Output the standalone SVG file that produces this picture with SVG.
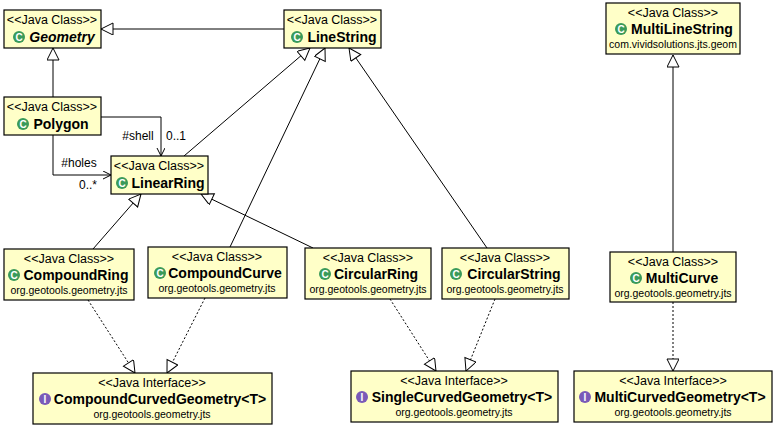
<svg xmlns="http://www.w3.org/2000/svg" width="775" height="428" viewBox="0 0 775 428">
<defs>
<marker id="tri" markerWidth="14" markerHeight="14" refX="13" refY="6" orient="auto" markerUnits="userSpaceOnUse"><path d="M1,0 L13,6 L1,12 Z" fill="#fff" stroke="#000"/></marker>
<marker id="open" markerWidth="10" markerHeight="10" refX="8" refY="4" orient="auto" markerUnits="userSpaceOnUse"><path d="M0,0 L8,4 L0,8" fill="none" stroke="#000"/></marker>
</defs>
<style>
.box{fill:#ffffc8;stroke:#000;stroke-width:1.2}
text{font-family:"Liberation Sans",Arial,sans-serif;text-anchor:middle}
.st{font-size:12.5px}
.nm{font-size:14px;font-weight:bold}
.pk{font-size:10.5px}
.lb{font-size:12px}
.ci{fill:#3a9a5a}
.ii{fill:#7a5ab8}
.ic{font-size:10px;font-weight:bold;fill:#fff}
.ln{fill:none;stroke:#000;stroke-width:1}
.ds{stroke-dasharray:2,2}
</style>
<g id="connectors">
<path class="ln" d="M284,29 H101" marker-end="url(#tri)"/>
<path class="ln" d="M53,97 V48" marker-end="url(#tri)"/>
<path class="ln" d="M101,117 H161 V156" marker-end="url(#open)"/>
<path class="ln" d="M53,135 V175 H111" marker-end="url(#open)"/>
<path class="ln" d="M184,156 L310,48" marker-end="url(#tri)"/>
<path class="ln" d="M230,247 L325,48" marker-end="url(#tri)"/>
<path class="ln" d="M487,248 L349,48" marker-end="url(#tri)"/>
<path class="ln" d="M93,249 L141,194" marker-end="url(#tri)"/>
<path class="ln" d="M313,248 L201,194" marker-end="url(#tri)"/>
<path class="ln" d="M673,252 V55" marker-end="url(#tri)"/>
<path class="ln ds" d="M88,300 L135,373" marker-end="url(#tri)"/>
<path class="ln ds" d="M205,298 L167,373" marker-end="url(#tri)"/>
<path class="ln ds" d="M390,299 L436,371" marker-end="url(#tri)"/>
<path class="ln ds" d="M495,299 L466,371" marker-end="url(#tri)"/>
<path class="ln ds" d="M673,302 V371" marker-end="url(#tri)"/>
<text class="lb" x="138" y="140">#shell</text>
<text class="lb" x="176" y="140">0..1</text>
<text class="lb" x="79" y="167">#holes</text>
<text class="lb" x="88" y="189">0..*</text>
</g>
<g id="Geometry"><rect class="box" x="4" y="10" width="97" height="38"/><text class="st" x="52" y="24">&lt;&lt;Java Class&gt;&gt;</text><circle class="ci" cx="19" cy="37" r="6"/><text class="ic" x="19" y="40.5">C</text><text class="nm" x="62" y="42" font-style="italic">Geometry</text></g>
<g id="LineString"><rect class="box" x="284" y="10" width="97" height="38"/><text class="st" x="332" y="24">&lt;&lt;Java Class&gt;&gt;</text><circle class="ci" cx="297" cy="37" r="6"/><text class="ic" x="297" y="40.5">C</text><text class="nm" x="342" y="42">LineString</text></g>
<g id="Polygon"><rect class="box" x="4" y="97" width="97" height="38"/><text class="st" x="52" y="111">&lt;&lt;Java Class&gt;&gt;</text><circle class="ci" cx="23" cy="124" r="6"/><text class="ic" x="23" y="127.5">C</text><text class="nm" x="61" y="129">Polygon</text></g>
<g id="LinearRing"><rect class="box" x="111" y="156" width="97" height="38"/><text class="st" x="159" y="170">&lt;&lt;Java Class&gt;&gt;</text><circle class="ci" cx="122" cy="183" r="6"/><text class="ic" x="122" y="186.5">C</text><text class="nm" x="168" y="188">LinearRing</text></g>
<g id="CompoundRing"><rect class="box" x="4" y="249" width="130" height="51"/><text class="st" x="69" y="263">&lt;&lt;Java Class&gt;&gt;</text><circle class="ci" cx="14" cy="275" r="6"/><text class="ic" x="14" y="278.5">C</text><text class="nm" x="76" y="280">CompoundRing</text><text class="pk" x="69" y="294">org.geotools.geometry.jts</text></g>
<g id="CompoundCurve"><rect class="box" x="148" y="247" width="139" height="51"/><text class="st" x="217" y="261">&lt;&lt;Java Class&gt;&gt;</text><circle class="ci" cx="160" cy="273" r="6"/><text class="ic" x="160" y="276.5">C</text><text class="nm" x="225" y="278">CompoundCurve</text><text class="pk" x="217" y="292">org.geotools.geometry.jts</text></g>
<g id="CircularRing"><rect class="box" x="305" y="248" width="126" height="51"/><text class="st" x="368" y="262">&lt;&lt;Java Class&gt;&gt;</text><circle class="ci" cx="325" cy="274" r="6"/><text class="ic" x="325" y="277.5">C</text><text class="nm" x="376" y="279">CircularRing</text><text class="pk" x="368" y="293">org.geotools.geometry.jts</text></g>
<g id="CircularString"><rect class="box" x="442" y="248" width="127" height="51"/><text class="st" x="505" y="262">&lt;&lt;Java Class&gt;&gt;</text><circle class="ci" cx="456" cy="274" r="6"/><text class="ic" x="456" y="277.5">C</text><text class="nm" x="514" y="279">CircularString</text><text class="pk" x="505" y="293">org.geotools.geometry.jts</text></g>
<g id="MultiLineString"><rect class="box" x="606" y="3" width="134" height="51"/><text class="st" x="673" y="17">&lt;&lt;Java Class&gt;&gt;</text><circle class="ci" cx="621" cy="29" r="6"/><text class="ic" x="621" y="32.5">C</text><text class="nm" x="682" y="34">MultiLineString</text><text class="pk" x="673" y="48">com.vividsolutions.jts.geom</text></g>
<g id="MultiCurve"><rect class="box" x="610" y="252" width="126" height="50"/><text class="st" x="673" y="266">&lt;&lt;Java Class&gt;&gt;</text><circle class="ci" cx="636" cy="278" r="6"/><text class="ic" x="636" y="281.5">C</text><text class="nm" x="682" y="283">MultiCurve</text><text class="pk" x="673" y="297">org.geotools.geometry.jts</text></g>
<g id="CompoundCurvedGeometry"><rect class="box" x="33" y="373" width="239" height="51"/><text class="st" x="152" y="387">&lt;&lt;Java Interface&gt;&gt;</text><circle class="ii" cx="45" cy="399" r="6"/><text class="ic" x="45" y="402.5">I</text><text class="nm" x="160" y="404">CompoundCurvedGeometry&lt;T&gt;</text><text class="pk" x="152" y="418">org.geotools.geometry.jts</text></g>
<g id="SingleCurvedGeometry"><rect class="box" x="351" y="371" width="207" height="51"/><text class="st" x="454" y="385">&lt;&lt;Java Interface&gt;&gt;</text><circle class="ii" cx="362" cy="397" r="6"/><text class="ic" x="362" y="400.5">I</text><text class="nm" x="462" y="402">SingleCurvedGeometry&lt;T&gt;</text><text class="pk" x="454" y="416">org.geotools.geometry.jts</text></g>
<g id="MultiCurvedGeometry"><rect class="box" x="574" y="371" width="198" height="51"/><text class="st" x="673" y="385">&lt;&lt;Java Interface&gt;&gt;</text><circle class="ii" cx="585" cy="397" r="6"/><text class="ic" x="585" y="400.5">I</text><text class="nm" x="680" y="402">MultiCurvedGeometry&lt;T&gt;</text><text class="pk" x="673" y="416">org.geotools.geometry.jts</text></g>
</svg>
